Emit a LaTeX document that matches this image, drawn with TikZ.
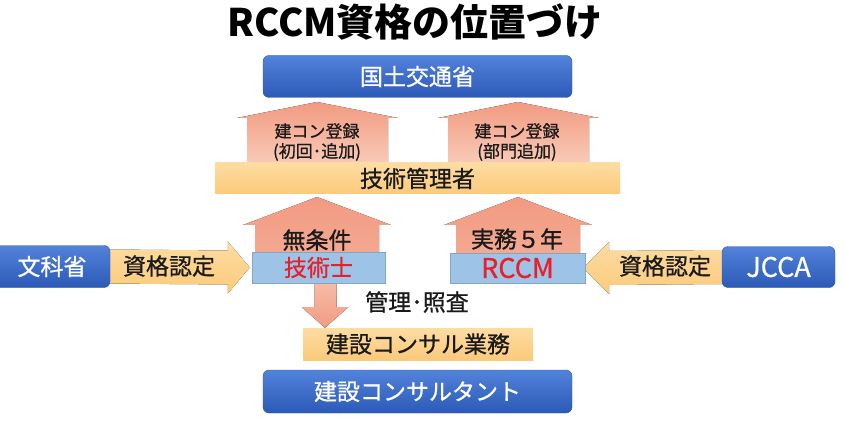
\documentclass[tikz,border=0pt]{standalone}
\usepackage{fontspec}
\setmainfont{Noto Sans CJK JP}
\newfontfamily\medfont{Noto Sans CJK JP}[FakeBold=0.8]
\usetikzlibrary{backgrounds}

\definecolor{blueTop}{HTML}{5283DA}
\definecolor{blueBot}{HTML}{2C59B7}
\definecolor{blueEdge}{HTML}{2E57A6}
\definecolor{salmonTop}{HTML}{F29A81}
\definecolor{salmonBot}{HTML}{FAD2BF}
\definecolor{sandTop}{HTML}{FDDCA2}
\definecolor{sandBot}{HTML}{FBCA7B}
\definecolor{paleBlue}{HTML}{9DC3E6}
\definecolor{redText}{HTML}{E8202A}
\definecolor{inkText}{HTML}{1A1A1A}

\tikzset{
  bigfont/.style={font=\medfont\fontsize{23}{26}\selectfont, text=inkText},
  smallfont/.style={font=\medfont\fontsize{17}{20}\selectfont, text=inkText},
  latinfont/.style={font=\medfont\fontsize{27}{28}\selectfont},
  bluebox/.style={rounded corners=6pt, top color=blueTop, bottom color=blueBot,
    draw=blueEdge, bigfont, text=white, inner sep=0pt},
  sandbar/.style={top color=sandTop, bottom color=sandBot, bigfont, inner sep=0pt},
  palebox/.style={fill=paleBlue, draw=paleBlue!85!black, bigfont, text=redText, inner sep=0pt},
  house/.style={top color=salmonTop, bottom color=salmonBot},
  lowhouse/.style={top color=salmonTop, bottom color=salmonTop!70!salmonBot},
  sandarrow/.style={top color=sandTop, bottom color=sandBot}
}

\begin{document}
\begin{tikzpicture}[x=1pt,y=-1pt]
  \useasboundingbox (0,0) rectangle (845,430);

  % title
  \node (title) at (415,22) {\fontsize{38}{40}\selectfont\bfseries RCCM資格の位置づけ};

  % ministries and organisations
  \node[bluebox, minimum width=309pt, minimum height=42pt] (mlit) at (417.5,76.5) {国土交通省};
  \node[bluebox, minimum width=116pt, minimum height=42pt] (mext) at (52,266.5) {文科省};
  \node[bluebox, latinfont, minimum width=113pt, minimum height=41pt] (jcca) at (778.5,267) {JCCA};
  \node[bluebox, minimum width=309pt, minimum height=43pt] (consult) at (417.5,391.5) {建設コンサルタント};

  % bars
  \node[sandbar, minimum width=405pt, minimum height=31pt] (mgr) at (417.5,178.5) {技術管理者};
  \node[sandbar, minimum width=230pt, minimum height=32pt] (work) at (418,344) {建設コンサル業務};

  % qualifications
  \node[palebox, minimum width=133pt, minimum height=31pt] (gishi) at (318.5,267.5) {技術士};
  \node[palebox, latinfont, minimum width=135pt, minimum height=30pt] (rccm) at (517.5,268) {RCCM};

  % texts on the arrows
  \node[smallfont, align=center] (regA) at (317,142) {建コン登録\\(初回･追加)};
  \node[smallfont, align=center] (regB) at (517,142) {建コン登録\\(部門追加)};
  \node[bigfont] (nocond) at (317,240) {無条件};
  \node[bigfont] (exper) at (517,239) {実務５年};
  \node[bigfont] (certA) at (169,266) {資格認定};
  \node[bigfont] (certB) at (665,266) {資格認定};
  \node[bigfont] (check) at (417,302) {管理･照査};

  \begin{scope}[on background layer]
    % upper houses
    \foreach \cx in {317,518} {
      \fill[house] (\cx-70,172) -- (\cx-70,118) -- (\cx-80,118) -- (\cx,102)
        -- (\cx+81,118) -- (\cx+71,118) -- (\cx+71,172) -- cycle;
    }
    % lower houses
    \foreach \cx in {317,518} {
      \fill[lowhouse] (\cx-62,262) -- (\cx-62,225) -- (\cx-74,225) -- (\cx,197)
        -- (\cx+74,225) -- (\cx+62,225) -- (\cx+62,262) -- cycle;
    }

    % certification arrows
    \fill[sandarrow] ([yshift=17pt]mext.east) -- ([xshift=-24pt,yshift=17pt]gishi.west)
      -- ([xshift=-24pt,yshift=26pt]gishi.west) -- ([xshift=-2pt]gishi.west)
      -- ([xshift=-24pt,yshift=-26pt]gishi.west) -- ([xshift=-24pt,yshift=-17pt]gishi.west)
      -- ([yshift=-17pt]mext.east) -- cycle;
    \fill[sandarrow] ([yshift=17pt]jcca.west) -- ([xshift=24pt,yshift=17pt]rccm.east)
      -- ([xshift=24pt,yshift=26pt]rccm.east) -- ([xshift=-2pt]rccm.east)
      -- ([xshift=24pt,yshift=-26pt]rccm.east) -- ([xshift=24pt,yshift=-17pt]rccm.east)
      -- ([yshift=-17pt]jcca.west) -- cycle;

    % down arrow to the work
    \fill[top color=salmonBot!60!salmonTop, bottom color=salmonTop]
      ([xshift=-4pt]gishi.south) -- ([xshift=-4pt]gishi.south |- 0,307)
      -- ([xshift=-17pt]gishi.south |- 0,307) -- ([xshift=6.5pt]gishi.south |- work.north)
      -- ([xshift=30pt]gishi.south |- 0,307) -- ([xshift=18pt]gishi.south |- 0,307)
      -- ([xshift=18pt]gishi.south) -- cycle;
  \end{scope}
\end{tikzpicture}
\end{document}
